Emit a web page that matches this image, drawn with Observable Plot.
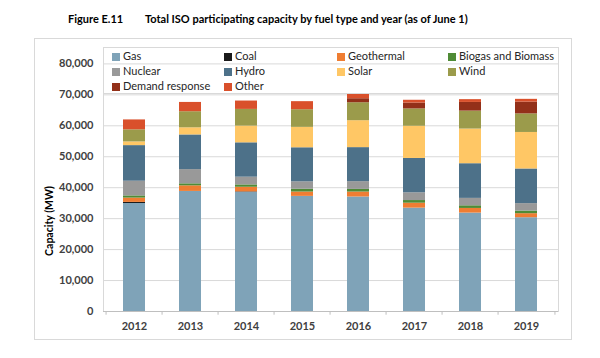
<!DOCTYPE html>
<html><head><meta charset="utf-8">
<script src="https://cdn.jsdelivr.net/npm/d3@7"></script>
<script src="https://cdn.jsdelivr.net/npm/@observablehq/plot@0.6"></script>
<style>
body{margin:0;background:#fff;font-family:Lato,"Open Sans",sans-serif;}
#wrap{position:relative;width:600px;height:358px;overflow:hidden;background:#fff}
#title{position:absolute;top:12px;left:0;width:600px;height:16px;font-weight:bold;font-size:11px;color:#000;white-space:nowrap}
#title span{position:absolute;top:0}
#frame{position:absolute;left:34px;top:38px;width:538px;height:302px;border:1px solid #d9d9d9;box-sizing:border-box}
#chart{position:absolute;left:0;top:0}
#legend{position:absolute;left:103px;top:47px;width:456px;height:47px;border:1px solid #d9d9d9;box-sizing:border-box}
.item{position:absolute;font-size:11px;color:#262626;white-space:nowrap;line-height:12px}
.sw{display:inline-block;width:8px;height:8px;margin-right:3px;vertical-align:-0.5px}
#ytitle{position:absolute;left:49px;top:221px;transform:translate(-50%,-50%) rotate(-90deg);font-weight:bold;font-size:10.5px;color:#000;white-space:nowrap}
</style>
</head><body>
<div id="wrap">
  <div id="title"><span style="left:68px">Figure E.11</span><span style="left:145px">Total ISO participating capacity by fuel type and year (as of June 1)</span></div>
  <div id="frame"></div>
  <div id="chart"></div>
  <div id="legend"></div>
  <div id="ytitle">Capacity (MW)</div>
</div>
<script>
const years = ["2012","2013","2014","2015","2016","2017","2018","2019"];
const fuels = ["Gas","Coal","Geothermal","Biogas and Biomass","Nuclear","Hydro","Solar","Wind","Demand response","Other"];
const colors = ["#7fa3b8","#1a1a1a","#ef7d32","#4f8b36","#999999","#4d7189","#ffc765","#9b9b4b","#933019","#d9502b"];
const yTicks = [0,10000,20000,30000,40000,50000,60000,70000,80000];

const gas        = [34900,38800,38500,37200,37000,33400,31800,30300];
const coal       = [350,0,150,0,0,0,0,0];
const geothermal = [1400,1800,1500,1400,1600,1600,1500,1300];
const biogas     = [700,650,750,900,850,850,850,850];
const nuclear    = [4750,4600,2500,2400,2500,2500,2400,2400];
const hydro      = [11500,11200,11100,11000,11000,11100,11200,11200];
const solar      = [1200,2300,5400,6600,8700,10400,11200,11800];
const wind       = [3900,5200,5400,5700,5800,5600,5800,6000];
const demandResp = [0,0,0,0,1300,1900,2800,3800];
const other      = [3200,3000,2700,2600,1600,900,900,900];

const series = [gas,coal,geothermal,biogas,nuclear,hydro,solar,wind,demandResp,other];
const rows = [];
fuels.forEach((f,i)=>years.forEach((y,j)=>rows.push({year:y,fuel:f,value:series[i][j]})));

const plotW = 600, mL = 103, mR = 42;
const step = (plotW - mL - mR) / years.length;

const chart = Plot.plot({
  width: 600, height: 358,
  marginLeft: mL, marginRight: mR, marginTop: 47, marginBottom: 47,
  style: {fontFamily: "Lato, sans-serif", fontSize: "11px", color: "#404040", background: "transparent", overflow: "visible"},
  x: {domain: years, paddingInner: 0.6, paddingOuter: 0.3, align: 0.5, label: null},
  y: {domain: [0, 85300], label: null},
  color: {domain: fuels, range: colors},
  marks: [
    Plot.gridY(yTicks, {stroke: "#d9d9d9", strokeOpacity: 1}),
    Plot.frame({stroke: "#d9d9d9"}),
    Plot.barY(rows, Plot.stackY({order: fuels}, {x: "year", y: "value", fill: "fuel"})),
    Plot.ruleY([0], {stroke: "#bfbfbf"}),
    Plot.ruleX(years, {x: d => d, dx: -step/2, y1: 0, y2: -1200, stroke: "#bfbfbf"}),
    Plot.ruleX([years[years.length-1]], {x: d => d, dx: step/2, y1: 0, y2: -1200, stroke: "#bfbfbf"}),
    Plot.axisY(yTicks, {tickSize: 0, tickPadding: 10, fontWeight: "bold", tickFormat: d3.format(","), label: null}),
    Plot.axisX({tickSize: 0, tickPadding: 11, fontWeight: "bold", label: null})
  ]
});
document.getElementById("chart").appendChild(chart);

const legend = document.getElementById("legend");
const colX = [8, 120, 233, 344];
const rowY = [2, 17, 32];
fuels.forEach((f,i)=>{
  const d = document.createElement("div");
  d.className = "item";
  d.style.left = colX[i%4] + "px";
  d.style.top = rowY[Math.floor(i/4)] + "px";
  d.innerHTML = `<span class="sw" style="background:${colors[i]}"></span>${f}`;
  legend.appendChild(d);
});
</script>
</body></html>
